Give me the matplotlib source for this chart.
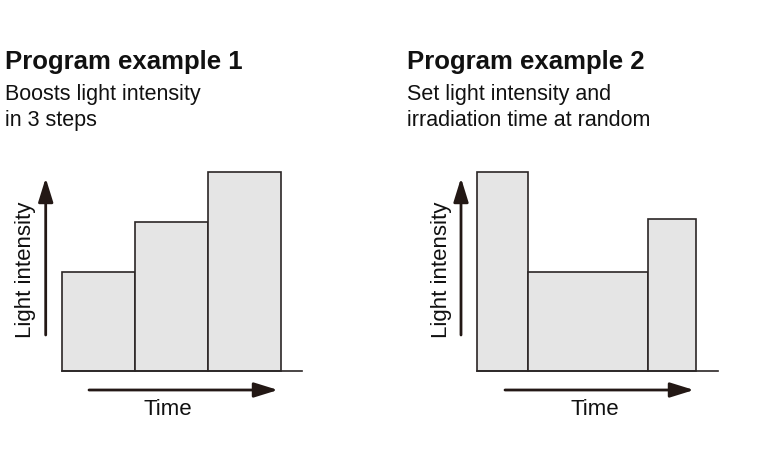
import matplotlib
matplotlib.use("Agg")
import matplotlib.pyplot as plt
import numpy as np

# ---- data ----
titles = ["Program example 1", "Program example 2"]
subtitles = ["Boosts light intensity\nin 3 steps", "Set light intensity and\nirradiation time at random"]
durations_1 = [3.0, 3.0, 3.0]
intensity_1 = [2.0, 3.0, 4.0]
durations_2 = [2.1, 4.9, 2.0]
intensity_2 = [4.0, 2.0, 3.05]
x_label = "Time"
y_label = "Light intensity"

W, H = 768, 461
fig = plt.figure(figsize=(W / 100, H / 100), dpi=100)
plt.rcParams['font.family'] = ['Liberation Sans', 'DejaVu Sans']

fill = "#e5e5e5"
edge = "#2b2626"
px_per_x = 24.33
px_per_y = 49.75

panels = [
    dict(left=62, right=302, durs=durations_1, vals=intensity_1,
         title=titles[0], sub=subtitles[0], tx=5, varrow_x=45.7,
         harrow=(89, 278), time_x=168, ylab_x=26),
    dict(left=477.3, right=718, durs=durations_2, vals=intensity_2,
         title=titles[1], sub=subtitles[1], tx=407, varrow_x=461,
         harrow=(505, 694), time_x=595, ylab_x=441),
]

base_px = 371
top_px = 172

for p in panels:
    l = p["left"] / W
    b = 1 - base_px / H
    w = (p["right"] - p["left"]) / W
    h = (base_px - top_px) / H
    ax = fig.add_axes([l, b, w, h])
    xmax = (p["right"] - p["left"]) / px_per_x
    ymax = (base_px - top_px) / px_per_y
    ax.set_xlim(0, xmax)
    ax.set_ylim(0, ymax)
    ax.axis("off")

    starts = np.concatenate([[0], np.cumsum(p["durs"])[:-1]])
    ax.bar(starts, p["vals"], width=p["durs"], align="edge", color=fill,
           edgecolor=edge, linewidth=1.2, clip_on=False, zorder=2)
    ax.axhline(0, color=edge, lw=1.2, zorder=3, clip_on=False)

    # vertical arrow
    vx = (p["varrow_x"] - p["left"]) / px_per_x
    vy0 = (base_px - 335) / px_per_y
    vy1 = (base_px - 178) / px_per_y
    ax.annotate("", xy=(vx, vy1), xytext=(vx, vy0), annotation_clip=False,
                arrowprops=dict(arrowstyle="-|>,head_length=1.45,head_width=0.45",
                                mutation_scale=10, lw=2.0, color="#231815",
                                shrinkA=0, shrinkB=0))
    # horizontal arrow
    hy = (base_px - 390) / px_per_y
    hx0 = (p["harrow"][0] - p["left"]) / px_per_x
    hx1 = (p["harrow"][1] - p["left"]) / px_per_x
    ax.annotate("", xy=(hx1, hy), xytext=(hx0, hy), annotation_clip=False,
                arrowprops=dict(arrowstyle="-|>,head_length=1.45,head_width=0.45",
                                mutation_scale=10, lw=2.0, color="#231815",
                                shrinkA=0, shrinkB=0))

    fig.text(p["time_x"] / W, 1 - 409.5 / H, x_label, ha="center", va="center",
             fontsize=16, color="#111111")
    fig.text(p["ylab_x"] / W, 1 - 270 / H, y_label, ha="center", va="center",
             rotation=90, fontsize=16, color="#111111")

    fig.text(p["tx"] / W, 1 - 68.5 / H, p["title"], ha="left", va="baseline",
             fontsize=18.5, fontweight="bold", color="#111111")
    lines = p["sub"].split("\n")
    for i, line in enumerate(lines):
        fig.text(p["tx"] / W, 1 - (100 + 26 * i) / H, line, ha="left",
                 va="baseline", fontsize=15.5, color="#111111")

fig.savefig("out.png", dpi=100)
